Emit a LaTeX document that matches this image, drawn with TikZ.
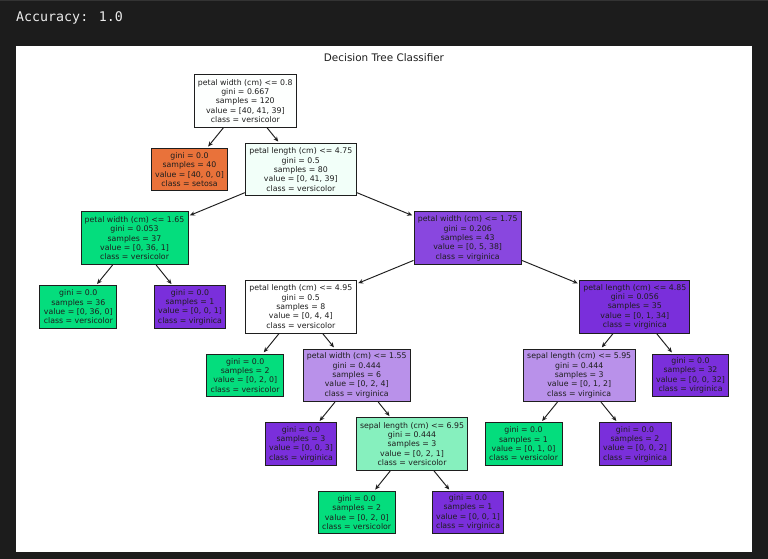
\documentclass[tikz,border=0pt]{standalone}
\usepackage{fontspec}
\setmainfont{DejaVu Sans}
\newfontfamily\monof{DejaVu Sans Mono}
\usetikzlibrary{arrows.meta}
\definecolor{bgdark}{HTML}{1C1C1C}
\definecolor{topstrip}{HTML}{333333}
\definecolor{inkc}{HTML}{1E1E1E}
\definecolor{orangef}{HTML}{E9723A}
\definecolor{greenf}{HTML}{04DD7D}
\definecolor{purplef}{HTML}{7A2FDB}
\definecolor{purplemid}{HTML}{8947DF}
\definecolor{purplelt}{HTML}{B991EA}
\definecolor{greenlt}{HTML}{86F0BE}
\definecolor{mint}{HTML}{F2FFF9}
\definecolor{rootf}{HTML}{FDFFFE}
\tikzset{
 x=1pt,y=-1pt,
 treebox/.style={draw=inkc,line width=1pt,inner sep=0pt,align=center,text=inkc,
   font=\fontsize{7.8}{9.33}\selectfont},
 inner/.style={treebox,minimum width=#1,minimum height=52.6pt},
 leaf/.style={treebox,minimum width=#1,minimum height=42.6pt},
 arr/.style={draw=inkc,line width=0.95pt,-{Stealth[length=5pt,width=4.4pt]},shorten >=1.5pt,shorten <=0pt},
}
\begin{document}
\begin{tikzpicture}
\useasboundingbox (0,0) rectangle (768,559);
\fill[bgdark] (0,0) rectangle (768,559);
\fill[topstrip] (0,0) rectangle (768,1);
\fill[white] (16,46.3) rectangle (751.7,552.3);
\node[font=\monof\fontsize{13.3}{15}\selectfont,text=white!92!black,anchor=west,inner sep=0pt] (acc) at (16,17.5) {Accuracy: 1.0};
\node[font=\fontsize{10.4}{12}\selectfont,text=inkc,inner sep=0pt] (title) at (384,57.5) {Decision Tree Classifier};

\node[inner=101.8pt,fill=rootf] (root) at (245.3,100.8) {petal width (cm) <= 0.8\\gini = 0.667\\samples = 120\\value = [40, 41, 39]\\class = versicolor};
\node[leaf=76.4pt,fill=orangef] (seto) at (189.5,169.5) {gini = 0.0\\samples = 40\\value = [40, 0, 0]\\class = setosa};
\node[inner=111pt,fill=mint] (pl475) at (300.8,169.6) {petal length (cm) <= 4.75\\gini = 0.5\\samples = 80\\value = [0, 41, 39]\\class = versicolor};
\node[inner=107pt,fill=greenf] (pw165) at (134.5,238.2) {petal width (cm) <= 1.65\\gini = 0.053\\samples = 37\\value = [0, 36, 1]\\class = versicolor};
\node[inner=107.3pt,fill=purplemid] (pw175) at (467.7,238.2) {petal width (cm) <= 1.75\\gini = 0.206\\samples = 43\\value = [0, 5, 38]\\class = virginica};
\node[leaf=76.7pt,fill=greenf] (l36) at (78.3,307) {gini = 0.0\\samples = 36\\value = [0, 36, 0]\\class = versicolor};
\node[leaf=71.5pt,fill=purplef] (l1a) at (190,307) {gini = 0.0\\samples = 1\\value = [0, 0, 1]\\class = virginica};
\node[inner=111pt,fill=white] (pl495) at (300.8,306.7) {petal length (cm) <= 4.95\\gini = 0.5\\samples = 8\\value = [0, 4, 4]\\class = versicolor};
\node[inner=110.3pt,fill=purplef] (pl485) at (634.8,306.7) {petal length (cm) <= 4.85\\gini = 0.056\\samples = 35\\value = [0, 1, 34]\\class = virginica};
\node[leaf=77pt,fill=greenf] (l2a) at (245.2,375.3) {gini = 0.0\\samples = 2\\value = [0, 2, 0]\\class = versicolor};
\node[inner=106.7pt,fill=purplelt] (pw155) at (356.7,375.3) {petal width (cm) <= 1.55\\gini = 0.444\\samples = 6\\value = [0, 2, 4]\\class = virginica};
\node[inner=111.7pt,fill=purplelt] (sl595) at (579.2,375.3) {sepal length (cm) <= 5.95\\gini = 0.444\\samples = 3\\value = [0, 1, 2]\\class = virginica};
\node[leaf=76.4pt,fill=purplef] (l32) at (690.5,375.3) {gini = 0.0\\samples = 32\\value = [0, 0, 32]\\class = virginica};
\node[leaf=71.4pt,fill=purplef] (l3) at (301,443.9) {gini = 0.0\\samples = 3\\value = [0, 0, 3]\\class = virginica};
\node[inner=111.4pt,fill=greenlt] (sl695) at (412,444) {sepal length (cm) <= 6.95\\gini = 0.444\\samples = 3\\value = [0, 2, 1]\\class = versicolor};
\node[leaf=77pt,fill=greenf] (l1b) at (523.5,443.9) {gini = 0.0\\samples = 1\\value = [0, 1, 0]\\class = versicolor};
\node[leaf=72pt,fill=purplef] (l2b) at (635,443.9) {gini = 0.0\\samples = 2\\value = [0, 0, 2]\\class = virginica};
\node[leaf=76.7pt,fill=greenf] (l2c) at (356.7,512.5) {gini = 0.0\\samples = 2\\value = [0, 2, 0]\\class = versicolor};
\node[leaf=71.4pt,fill=purplef] (l1c) at (468,512.5) {gini = 0.0\\samples = 1\\value = [0, 0, 1]\\class = virginica};

\foreach \a/\b in {root/seto,root/pl475,pl475/pw165,pl475/pw175,pw165/l36,pw165/l1a,pw175/pl495,pw175/pl485,pl495/l2a,pl495/pw155,pl485/sl595,pl485/l32,pw155/l3,pw155/sl695,sl595/l1b,sl595/l2b,sl695/l2c,sl695/l1c}
  \draw[arr] (\a) -- (\b);
\end{tikzpicture}
\end{document}
